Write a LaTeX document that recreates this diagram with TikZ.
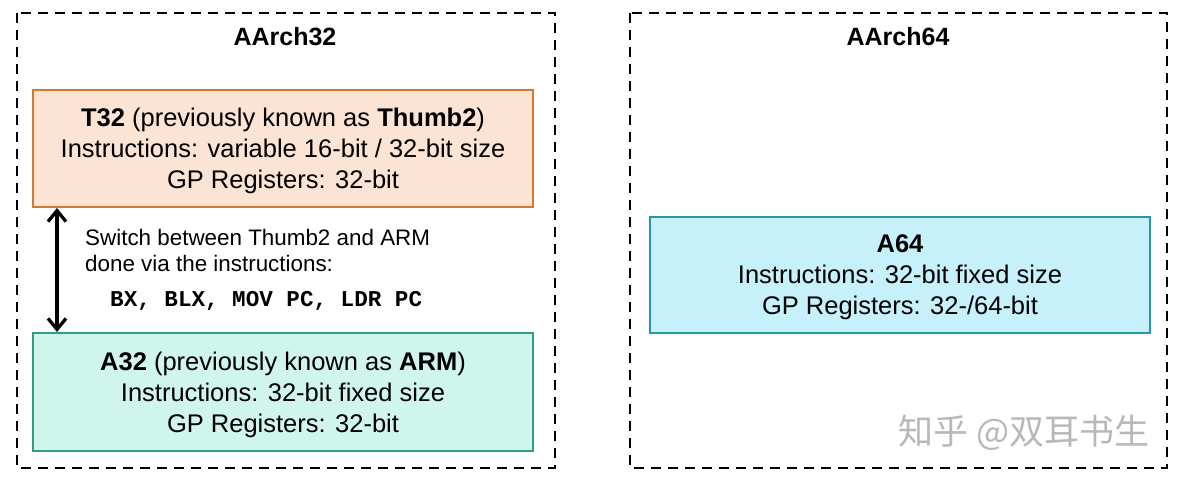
\documentclass[tikz,border=0pt]{standalone}
\usepackage{fontspec}
\setmainfont{Liberation Sans}
\setmonofont{Liberation Mono}
\newfontfamily\cjk{Noto Sans CJK SC}
\usetikzlibrary{arrows.meta}
\definecolor{tfill}{RGB}{252,228,212}
\definecolor{tdraw}{RGB}{214,120,50}
\definecolor{afill}{RGB}{208,245,237}
\definecolor{adraw}{RGB}{48,158,136}
\definecolor{cfill}{RGB}{198,240,250}
\definecolor{cdraw}{RGB}{40,150,170}
\tikzset{
  region/.style={draw=black, line width=2.2pt, dash pattern=on 10pt off 7pt},
  isabox/.style={rectangle, line width=2pt, minimum width=500pt, inner sep=0pt, align=center,
    text depth=0pt, font=\fontsize{25.5}{31}\selectfont},
  title/.style={font=\bfseries\fontsize{25}{30}\selectfont, inner sep=0pt},
  note/.style={font=\fontsize{22.4}{26}\selectfont, align=left, inner sep=0pt, anchor=north west},
  mono/.style={font=\ttfamily\bfseries\fontsize{22.6}{26}\selectfont, inner sep=0pt, anchor=west},
  swarrow/.style={line width=3.3pt, {Straight Barb[length=11pt,width=18pt]}-{Straight Barb[length=11pt,width=18pt]}},
}
\begin{document}
\begin{tikzpicture}[x=1pt,y=1pt]
\useasboundingbox (0,0) rectangle (1182,-481);
\fill[white] (0,0) rectangle (1182,-481);
% regions
\draw[region] (17,-13) rectangle (555,-468);
\draw[region] (630,-13) rectangle (1167,-468);
\node[title] (t32title) at (285,-37) {AArch32};
\node[title] (t64title) at (898,-37) {AArch64};
% boxes
\node[isabox, draw=tdraw, fill=tfill, minimum height=117pt] (t) at (283,-148.5)
  {\textbf{T32} (previously known as \textbf{Thumb2})\\Instructions: variable 16-bit / 32-bit size\\GP Registers: 32-bit};
\node[isabox, draw=adraw, fill=afill, minimum height=118pt] (a) at (283,-392)
  {\textbf{A32} (previously known as \textbf{ARM})\\Instructions: 32-bit fixed size\\GP Registers: 32-bit};
\node[isabox, draw=cdraw, fill=cfill, minimum height=116pt] (c) at (900,-275)
  {\textbf{A64}\\Instructions: 32-bit fixed size\\GP Registers: 32-/64-bit};
% switch arrow
\coordinate (ax) at (57,0);
\draw[swarrow] (ax |- t.south) -- (ax |- a.north);
\node[note] (sw) at (85,-229) {Switch between Thumb2 and ARM\\done via the instructions:};
\node[mono] (ins) at (110,-301) {BX, BLX, MOV PC, LDR PC};
% watermark
\node[font=\cjk\fontsize{35}{38}\selectfont, text=black!28, inner sep=0pt] (wm) at (1024,-433) {知乎 @双耳书生};
\end{tikzpicture}
\end{document}
